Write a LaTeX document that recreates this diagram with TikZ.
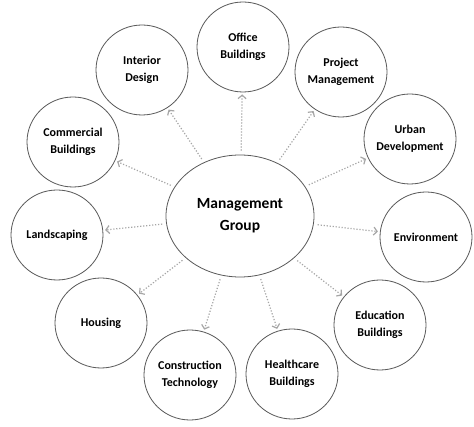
\documentclass[tikz,border=0pt]{standalone}
\usepackage{fontspec}
\setmainfont{Carlito}
\usetikzlibrary{shapes.geometric,arrows.meta}
\begin{document}
\begin{tikzpicture}[x=1pt,y=-1pt,
  bubble/.style={draw=black!65,line width=.8pt,ellipse,minimum width=92pt,minimum height=90pt,inner sep=0pt},
  lbl/.style={font=\bfseries\fontsize{12}{17}\selectfont,align=center},
  link/.style={draw=black!35,line width=1.2pt,dash pattern=on 1.2pt off 1.8pt,
    -{Straight Barb[length=3.5pt,width=8pt]},shorten >=2pt,shorten <=4pt}]
\useasboundingbox[fill=white] (0,0) rectangle (474,427);
% Nodo central
\node[draw=black!65,line width=.8pt,ellipse,minimum width=148pt,minimum height=122pt,inner sep=0pt,
  font=\bfseries\fontsize{15.5}{22}\selectfont,align=center] (mg) at (240,216) {Management\\Group};
% Nodos exteriores
\node[bubble,label={[lbl]center:Office\\Buildings}] (ob) at (243,47) {};
\node[bubble,label={[lbl]center:Interior\\Design}] (id) at (142,70) {};
\node[bubble,label={[lbl]center:Project\\Management}] (pm) at (341,72) {};
\node[bubble,label={[lbl]center:Commercial\\Buildings}] (cb) at (73,142) {};
\node[bubble,label={[lbl]center:Urban\\Development}] (ud) at (410,139) {};
\node[bubble,label={[lbl]center:Landscaping}] (ls) at (57,235) {};
\node[bubble,label={[lbl]center:Environment}] (ev) at (426,237) {};
\node[bubble,label={[lbl]center:Housing}] (hs) at (101,323) {};
\node[bubble,label={[lbl]center:Education\\Buildings}] (eb) at (380,325) {};
\node[bubble,label={[lbl]center:Construction\\Technology}] (ct) at (190,375) {};
\node[bubble,label={[lbl]center:Healthcare\\Buildings}] (hb) at (292,374) {};
% Flechas punteadas
\draw[link] (mg) -- (ob);
\draw[link] (mg) -- (id);
\draw[link] (mg) -- (pm);
\draw[link] (mg) -- (cb);
\draw[link] (mg) -- (ud);
\draw[link] (mg) -- (ls);
\draw[link] (mg) -- (ev);
\draw[link] (mg) -- (hs);
\draw[link] (mg) -- (eb);
\draw[link] (mg) -- (ct);
\draw[link] (mg) -- (hb);
\end{tikzpicture}
\end{document}
